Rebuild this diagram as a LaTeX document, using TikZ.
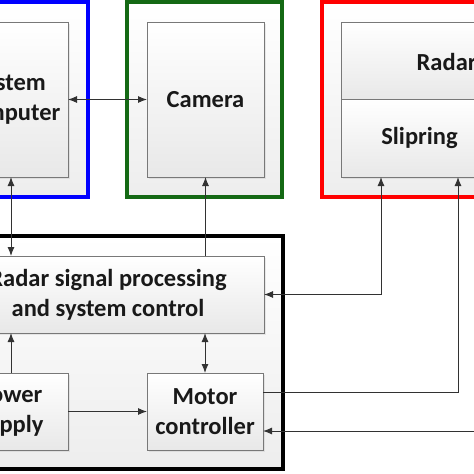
\documentclass[tikz,border=0pt]{standalone}
\usepackage{fontspec}
\setmainfont{Carlito}
\usetikzlibrary{arrows.meta,shadows,calc}
\definecolor{gbox}{RGB}{20,105,20}
\definecolor{ln}{RGB}{50,50,50}
\definecolor{bd}{RGB}{120,120,120}
\begin{document}
\begin{tikzpicture}[x=1pt,y=-1pt,
  inner/.style={draw=bd, line width=1pt, top color=white, bottom color=black!9,
    inner sep=0pt, outer sep=0pt, align=center, text=black!90,
    font=\bfseries\fontsize{24.5}{30}\selectfont,
    drop shadow={opacity=0.15, shadow xshift=2pt, shadow yshift=-2pt}},
  outer/.style={line width=3.5pt, top color=white, bottom color=black!7,
    inner sep=0pt, outer sep=0pt},
  conn/.style={draw=ln, line width=1pt, arrows={-Latex[length=9pt,width=7pt]}},
  conn2/.style={draw=ln, line width=1pt, arrows={Latex[length=9pt,width=7pt]-Latex[length=9pt,width=7pt]}}]
\useasboundingbox (0,0) rectangle (474,474);
\clip (0,0) rectangle (474,474);
\fill[white] (0,0) rectangle (474,474);
% outer boxes
\node[outer, draw=blue, minimum width=157pt, minimum height=195pt] (blue) at (9.5,99.5) {};
\node[outer, draw=gbox, minimum width=155pt, minimum height=195pt] (green) at (204.5,99.5) {};
\node[outer, draw=red, minimum width=198pt, minimum height=195pt] (redb) at (421,99.5) {};
\node[outer, draw=black, line width=4pt, minimum width=351pt, minimum height=233pt] (blk) at (107.5,352.5) {};
% inner boxes
\node[inner, minimum width=117pt, minimum height=155pt] (sc) at (9.5,99.5) {System\\Computer};
\node[inner, minimum width=117pt, minimum height=155pt] (cam) at (205.5,99.5) {Camera};
\node[inner, minimum width=157pt, minimum height=77pt] (radar) at (419.5,60.5) {};
\node[anchor=west, inner sep=0pt, text=black!90, font=\bfseries\fontsize{24.5}{30}\selectfont] (radartxt) at (416.5,62) {Radar};
\node[inner, minimum width=157pt, minimum height=78pt] (slip) at (419.5,138) {Slipring};
\node[inner, minimum width=312pt, minimum height=77pt] (rsp) at (108,294.5) {Radar signal processing\\and system control};
\node[inner, minimum width=116pt, minimum height=77pt] (pow) at (10,411.5) {Power\\supply};
\node[inner, minimum width=116pt, minimum height=77pt] (mot) at (205,411.5) {Motor\\controller};
% connectors
\draw[conn2] (sc.east) -- (cam.west);
\draw[conn2] ([xshift=1.5pt]sc.south) -- ([xshift=1.5pt]sc.south |- rsp.north);
\draw[conn] (cam.south |- rsp.north) -- (cam.south);
\draw[conn2] ([xshift=40pt]slip.south west) |- (rsp.east);
\draw[conn] ([yshift=19.5pt]mot.east) -| ([xshift=117pt]slip.south west);
\coordinate (ext) at (490,431);
\draw[conn] (ext) -- ([yshift=-19.5pt]mot.east);
\draw[conn] ([xshift=1pt]pow.north) -- ([xshift=1pt]pow.north |- rsp.south);
\draw[conn2] (mot.north |- rsp.south) -- (mot.north);
\draw[conn] (pow.east) -- (mot.west);
\end{tikzpicture}
\end{document}
